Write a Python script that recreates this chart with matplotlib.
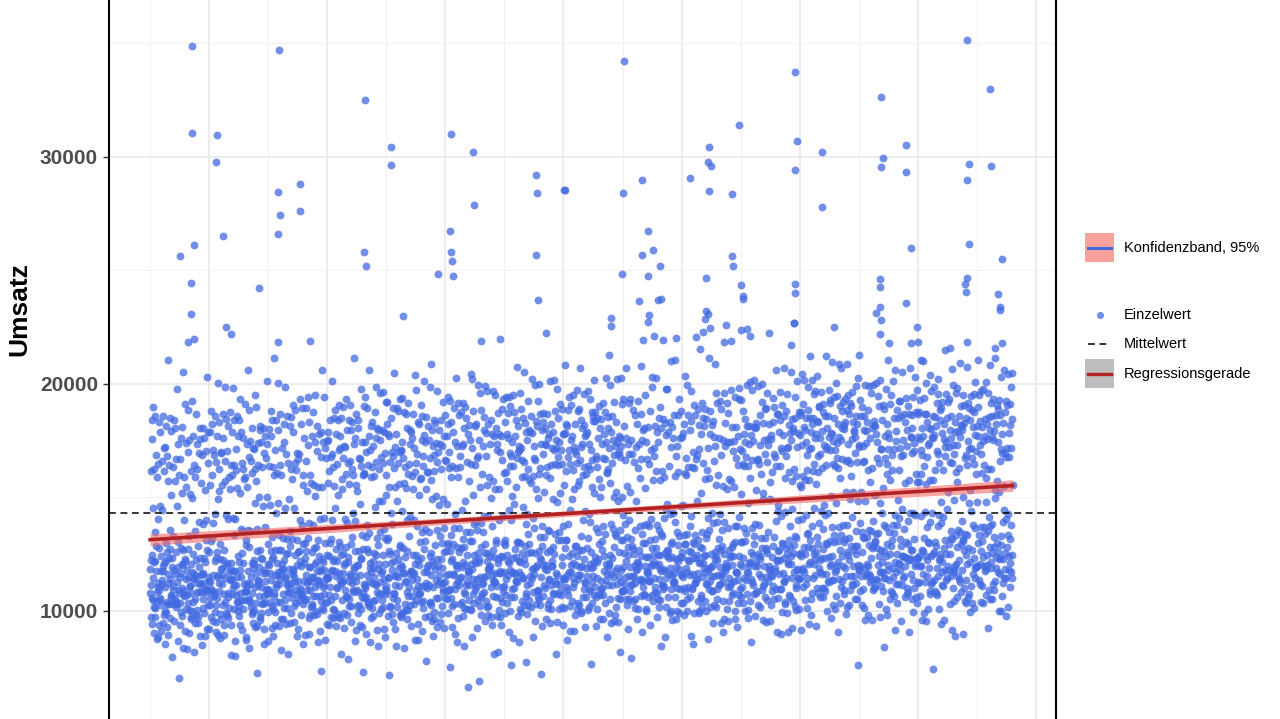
import numpy as np
import matplotlib
matplotlib.use("Agg")
import matplotlib.pyplot as plt
from matplotlib.patches import Rectangle

plt.rcParams["font.family"] = ["Liberation Sans", "DejaVu Sans"]

# --- data --------------------------------------------------------------
# x = day index (10 years, one value per day), y = Umsatz
# dense body: counts per x-segment (250 days) and 1000-wide Umsatz bin
seg_start = [0, 250, 500, 750, 1000, 1250, 1500, 1750, 2000, 2250,
             2500, 2750, 3000, 3250, 3500]
seg_width = [250, 250, 250, 250, 250, 250, 250, 250, 250, 250,
             250, 250, 250, 250, 151]
bin_low = [6000, 7000, 8000, 9000, 10000, 11000, 12000, 13000,
           14000, 15000, 16000, 17000, 18000, 19000, 20000, 21000]
counts = [
    [0, 1, 8, 27, 50, 48, 27, 9, 6, 12, 18, 18, 12, 4, 2, 0],
    [0, 1, 7, 26, 46, 45, 24, 10, 7, 14, 20, 22, 14, 6, 2, 0],
    [0, 1, 5, 21, 44, 51, 33, 12, 6, 10, 17, 19, 14, 7, 2, 0],
    [0, 1, 5, 19, 40, 46, 30, 11, 7, 13, 22, 24, 18, 8, 3, 0],
    [0, 1, 5, 18, 37, 45, 29, 11, 7, 14, 23, 25, 19, 9, 3, 0],
    [1, 3, 3, 13, 35, 47, 36, 15, 7, 9, 18, 22, 18, 11, 3, 1],
    [0, 3, 2, 12, 33, 43, 33, 14, 7, 12, 22, 27, 22, 11, 4, 1],
    [0, 0, 3, 13, 31, 42, 31, 14, 7, 13, 23, 29, 23, 12, 4, 1],
    [0, 0, 2, 10, 30, 47, 42, 19, 7, 8, 14, 20, 18, 10, 4, 1],
    [0, 0, 2, 10, 29, 47, 40, 19, 7, 8, 15, 20, 18, 11, 4, 1],
    [0, 0, 2, 9, 27, 42, 36, 17, 7, 9, 19, 26, 23, 13, 5, 1],
    [0, 0, 1, 6, 20, 37, 37, 20, 8, 9, 20, 30, 30, 19, 8, 2],
    [0, 0, 1, 6, 21, 39, 39, 22, 8, 9, 16, 25, 25, 16, 7, 2],
    [0, 1, 1, 6, 19, 35, 35, 20, 8, 9, 19, 29, 29, 19, 8, 2],
    [0, 0, 0, 2, 10, 20, 24, 15, 6, 5, 10, 15, 17, 12, 6, 2],
]

# single high values (December peaks), read point by point
peak_day = [179, 180, 187, 127, 176, 175, 188, 160,
            282, 279, 308, 463, 320, 342,
            545, 543, 552, 542, 636, 637, 540, 677,
            909, 908, 916,
            1020, 1022, 1071, 1219,
            1272, 1368, 1371, 1270, 1274, 1280, 1281, 1401,
            1635, 1636, 1634, 1643,
            1754, 1756, 1950, 1949,
            2008, 2082, 2000, 2108, 2083, 2129, 1997, 2109, 2160,
            2068, 2150, 2161, 2112, 2106, 2085, 2132, 2170, 2227,
            2284, 2365, 2363, 2373, 2367, 2465, 2464, 2466, 2354, 2355,
            2361, 2348, 2372, 2437, 2340, 2312, 2431, 2458, 2493,
            2503, 2508, 2509, 2500, 2527, 2538, 2731, 2738, 2730, 2729,
            2728, 2725, 2726, 2711,
            2844, 2845, 2893,
            3095, 3101, 3094, 3200, 3201, 3222, 3088, 3091, 3198, 3089,
            3073, 3093, 3090, 3219,
            3458, 3465, 3456, 3464, 3459, 3450, 3455, 3457, 3247, 3250,
            3555, 3557, 3605, 3588, 3596, 3598, 3604]
peak_umsatz = [34900, 31050, 26120, 25640, 24450, 23080, 21980, 21850,
               30970, 29780, 26520, 24230, 22510, 22200,
               34710, 28460, 27440, 26610, 28810, 27620, 21850, 21890,
               32510, 25810, 25200,
               30440, 29650, 23000, 24850,
               31010, 30220, 27880, 26740, 25810, 25420, 24760, 21890,
               29210, 28410, 25680, 23700,
               28550, 28530, 22910, 22550,
               34230, 28990, 28410, 26740, 25680, 25900, 24850, 24760, 25200,
               23660, 23700, 23740, 23040, 22730, 21940, 22110, 21940, 22030,
               29070, 30440, 29780, 29600, 28500, 28370, 25640, 25200, 24670,
               23220, 23080, 22860, 22470, 22600, 22290, 22070, 21850,
               21890, 31410,
               24360, 23880, 23740, 22380, 22420, 22110, 33740, 30700,
               29430, 24400, 24010, 22690, 22700, 21720,
               30220, 27800, 22510,
               32640, 29950, 29560, 30530, 29340, 25990, 24620, 24270,
               23570, 23390, 23130, 22820, 22200, 21810,
               35150, 29690, 28990, 26170, 24670, 24400, 24050, 21850,
               22510, 21850,
               32990, 29600, 25510, 23960, 23390, 23260, 21810]


def radical_inverse(i, base):
    f, r = 1.0, 0.0
    while i > 0:
        f /= base
        r += f * (i % base)
        i //= base
    return r


# --- place the binned counts inside their cells (Halton points) ----------
xs, ys = [], []
k = 1
for s0, w, row in zip(seg_start, seg_width, counts):
    for b0, c in zip(bin_low, row):
        for _ in range(c):
            xs.append(s0 + radical_inverse(k, 2) * w)
            # triangular spread around the bin centre softens bin edges
            v = radical_inverse(k, 3) + radical_inverse(k, 5) - 1.0
            ys.append(b0 + 500 + v * 1000)
            k += 1
x = np.concatenate([np.array(xs), np.array(peak_day, dtype=float)])
y = np.concatenate([np.array(ys), np.array(peak_umsatz, dtype=float)])

# --- linear fit with 95 % band ---------------------------------------------
slope, icpt = np.polyfit(x, y, 1)
xx = np.linspace(x.min(), x.max(), 200)
fit = icpt + slope * xx
res = y - (icpt + slope * x)
s_res = np.sqrt(np.sum(res ** 2) / (len(x) - 2))
sxx = np.sum((x - x.mean()) ** 2)
half = 1.96 * s_res * np.sqrt(1 / len(x) + (xx - x.mean()) ** 2 / sxx)
mean_val = y.mean()

# --- figure --------------------------------------------------------------
fig = plt.figure(figsize=(12.8, 7.19), dpi=100)
ax = fig.add_axes([109 / 1280, 0, (1056 - 109) / 1280, 1])
ax.set_xlim(-173, 3834)
ax.set_ylim(5242, 36916)

ax.scatter(x, y, s=32, color="#4169E1", alpha=0.75, linewidths=0, zorder=2)
ax.axhline(mean_val, color="black", lw=1.1, ls=(0, (4.5, 3)), zorder=3)
ax.fill_between(xx, fit - half, fit + half, color="#F26A66", alpha=0.6,
                linewidth=0, zorder=4)
ax.plot(xx, fit, color="#B22222", lw=2.6, zorder=5)

ax.set_yticks([10000, 20000, 30000])
ax.set_yticks([15000, 25000, 35000], minor=True)
ax.set_xticks(np.arange(250, 3800, 500))
ax.set_xticks(np.arange(0, 3800, 500), minor=True)
ax.grid(which="major", color="#EBEBEB", lw=1.3, zorder=0)
ax.grid(which="minor", color="#F2F2F2", lw=0.8, zorder=0)
ax.set_axisbelow(True)
ax.tick_params(axis="x", which="both", length=0, labelbottom=False)
ax.tick_params(axis="y", which="major", length=4, width=1.0, color="#333333",
               pad=4, labelsize=15, labelcolor="#4D4D4D")
ax.tick_params(axis="y", which="minor", length=0)
for lab in ax.get_yticklabels():
    lab.set_fontweight("bold")

for side in ("top", "bottom"):
    ax.spines[side].set_visible(False)
for side in ("left", "right"):
    ax.spines[side].set_color("black")
    ax.spines[side].set_linewidth(1.5)

ax.set_ylabel("Umsatz", fontsize=19, fontweight="bold", color="black")
ax.yaxis.set_label_coords(-0.0815, 1 - 309.5 / 719)

# --- legend (drawn in figure pixels) -------------------------------------
lax = fig.add_axes([0, 0, 1, 1], zorder=10)
lax.set_xlim(0, 1280)
lax.set_ylim(719, 0)
lax.axis("off")
lax.add_patch(Rectangle((1085, 233), 29, 29, facecolor="#F9A19C",
                        edgecolor="none"))
lax.plot([1088, 1111], [247.5, 247.5], color="#4169E1", lw=2.2)
lax.add_patch(Rectangle((1085, 359), 29, 29, facecolor="#BDBDBD",
                        edgecolor="none"))
lax.plot([1088, 1111], [373.5, 373.5], color="#B22222", lw=2.4)
lax.scatter([1099.5], [315], s=26, color="#4169E1", alpha=0.75, linewidths=0)
lax.plot([1088, 1111], [344, 344], color="black", lw=1.1, ls=(0, (4.5, 3)))
for ty, txt in [(248, "Konfidenzband, 95%"), (315, "Einzelwert"),
                (344, "Mittelwert"), (374, "Regressionsgerade")]:
    lax.text(1124, ty, txt, ha="left", va="center", fontsize=10.5,
             color="black")

fig.savefig("out.png", dpi=100)
